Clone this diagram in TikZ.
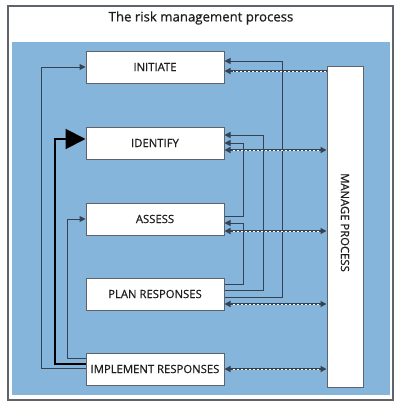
\documentclass[tikz,border=0pt]{standalone}
\usepackage{fontspec}
\setmainfont[FakeBold=0.6]{Open Sans}
\usetikzlibrary{arrows.meta}
\definecolor{bgblue}{RGB}{134,181,219}
\definecolor{lineclr}{RGB}{52,66,82}
\definecolor{boxedge}{RGB}{95,100,108}
\definecolor{txt}{RGB}{30,30,30}
\tikzset{
  procbox/.style={draw=boxedge, line width=1pt, fill=white, minimum width=138pt, minimum height=32pt, inner sep=0pt, text=txt, font=\fontsize{11.3}{13}\selectfont},
  conn/.style={draw=lineclr, line width=1pt, -{Triangle[length=6pt,width=6pt]}, color=lineclr},
  bigconn/.style={draw=black, line width=2pt, -{Triangle[length=20pt,width=20pt]}},
  dashbase/.style={draw=lineclr, line width=1.3pt},
  dashtop/.style={draw=white, line width=1pt, dash pattern=on 2pt off 2pt},
}
\begin{document}
\begin{tikzpicture}[x=1pt,y=-1pt]
\useasboundingbox (0,0) rectangle (400,410);
\fill[white] (0,0) rectangle (400,410);
\draw[draw=boxedge, line width=1.2pt, fill=white] (8,6) rectangle (393,400);
\fill[bgblue] (12,42) rectangle (390,395);
\node[text=txt] (title) at (201,18) {\fontsize{13.2}{15}\selectfont The risk management process};

\node[procbox] (init) at (155,67) {INITIATE};
\node[procbox] (ident) at (155,143) {IDENTIFY};
\node[procbox] (assess) at (155,219) {ASSESS};
\node[procbox] (plan) at (155,294) {PLAN RESPONSES};
\node[procbox] (impl) at (155,369) {IMPLEMENT RESPONSES};
\node[draw=boxedge, line width=1pt, fill=white, minimum width=36pt, minimum height=321pt, inner sep=0pt] (mp) at (345,226.5) {};
\node[rotate=-90, text=txt, font=\fontsize{11.3}{13}\selectfont] (mptext) at ([yshift=4pt]mp.center) {MANAGE PROCESS};

% left feedback lines
\draw[conn] (impl.west |- 0,368) -- (41,368) |- (init.west);
\draw[conn] (impl.west |- 0,358) -- (67,358) |- (assess.west);
\draw[bigconn] (impl.west |- 0,364) -- (55,364) |- (ident.west |- 0,139);

% right feedback lines
\draw[conn] (assess.east |- 0,216) -- (243,216) |- (ident.east |- 0,143);
\draw[conn] (plan.east |- 0,284) -- (243,284) |- (assess.east |- 0,223);
\draw[conn] (plan.east |- 0,290) -- (263,290) |- (ident.east |- 0,135);
\draw[conn] (plan.east |- 0,297) -- (282,297) |- (init.east |- 0,61);

% dashed links to manage process
\draw[dashbase, -{Triangle[length=6pt,width=6pt]}] (mp.west |- 0,71) -- (init.east |- 0,71);
\draw[dashtop] ([xshift=-1pt]mp.west |- 0,71) -- ([xshift=8pt]init.east |- 0,71);
\foreach \yy/\bx in {150/ident, 231/assess, 304/plan, 369/impl}{
  \draw[dashbase, {Triangle[length=6pt,width=6pt]}-{Triangle[length=6pt,width=6pt]}] (\bx.east |- 0,\yy) -- (mp.west |- 0,\yy);
  \draw[dashtop] ([xshift=8pt]\bx.east |- 0,\yy) -- ([xshift=-8pt]mp.west |- 0,\yy);
}
\end{tikzpicture}
\end{document}
